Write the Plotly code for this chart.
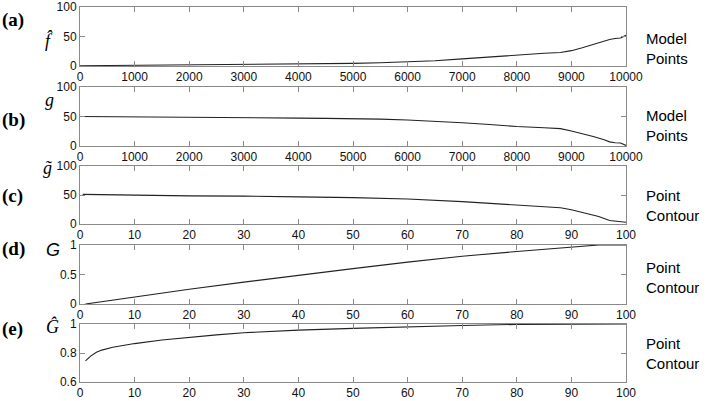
import plotly.graph_objects as go

W, H = 709, 401

# ---- data ----
x_model = [0, 500, 1000, 1500, 2000, 2500, 3000, 3500, 4000, 4500, 5000, 5500, 6000,
           6500, 7000, 7500, 8000, 8500, 8800, 9000, 9200, 9400, 9600, 9700, 9800, 9900, 10000]
f_hat = [0.5, 0.8, 1.0, 1.3, 1.6, 2.0, 2.3, 2.7, 3.0, 3.7, 4.5, 5.5, 7.0,
         9.0, 12.0, 15.5, 19.0, 21.5, 23.0, 26.0, 31.0, 37.0, 42.0, 45.0, 46.5, 47.5, 52.0]
g_vals = [50.0, 49.8, 49.5, 49.2, 49.0, 48.6, 48.2, 47.8, 47.3, 46.8, 46.5, 45.5, 44.0,
          42.0, 39.5, 36.5, 33.0, 31.0, 29.5, 25.5, 21.0, 16.0, 10.5, 7.0, 5.5, 5.0, 1.0]

x_tilde = [0.5, 5, 10, 15, 17, 20, 30, 35, 40, 50, 60, 70, 80, 88, 90, 95, 97, 100]
g_tilde = [51.0, 50.2, 50.0, 49.7, 48.5, 48.5, 48.0, 47.8, 46.8, 45.5, 43.0, 38.5, 33.0,
           28.0, 24.5, 13.0, 6.0, 3.0]

x_G = [1, 10, 20, 30, 40, 50, 60, 70, 80, 90, 95, 100]
G_vals = [0.0, 0.12, 0.25, 0.37, 0.49, 0.60, 0.71, 0.81, 0.89, 0.97, 1.0, 1.0]

x_Gh = [1, 2, 3, 4, 6, 8, 10, 15, 20, 25, 30, 40, 50, 60, 70, 80, 88, 100]
G_hat = [0.745, 0.78, 0.805, 0.82, 0.84, 0.855, 0.865, 0.89, 0.91, 0.925, 0.94, 0.958,
         0.97, 0.982, 0.99, 0.997, 1.0, 1.0]

panel_tags = ["(a)", "(b)", "(c)", "(d)", "(e)"]
y_titles = ["f\u0302", "g", "g\u0303", "G", "\u011C"]
side_labels = ["Model<br>Points", "Model<br>Points", "Point<br>Contour",
               "Point<br>Contour", "Point<br>Contour"]

series = [(x_model, f_hat), (x_model, g_vals), (x_tilde, g_tilde), (x_G, G_vals), (x_Gh, G_hat)]
x_ranges = [[0, 10000], [0, 10000], [0, 100], [0, 100], [0, 100]]
x_dticks = [1000, 1000, 10, 10, 10]
y_ranges = [[0, 100], [0, 100], [0, 100], [0, 1], [0.6, 1]]
y_tickvals = [[0, 50, 100], [0, 50, 100], [0, 50, 100], [0, 0.5, 1], [0.6, 0.8, 1]]
y_ticktext = [["0", "50", "100"], ["0", "50", "100"], ["0", "50", "100"],
              ["0", "0.5", "1"], ["0.6", "0.8", "1"]]

# ---- layout geometry (pixels) ----
px_left, px_right = 80, 626
panel_px = [(7, 66), (87, 146), (166, 224), (245, 304), (324, 382)]
tag_y = [20, 120, 196, 249, 329]
title_pos = [(49, 40), (49, 100), (48, 168), (53, 250), (52, 326)]
side_y = [48.5, 125, 205, 277, 353.5]

def py(p):
    return 1 - p / H

def px(p):
    return p / W

fig = go.Figure()
layout = dict(width=W, height=H, margin=dict(l=0, r=0, t=0, b=0, pad=0, autoexpand=False),
              paper_bgcolor="white", plot_bgcolor="white", showlegend=False)

annotations = []
for i in range(5):
    n = "" if i == 0 else str(i + 1)
    xs, ys = series[i]
    fig.add_trace(go.Scatter(x=xs, y=ys, mode="lines",
                             line=dict(color="#222222", width=1.1),
                             xaxis="x" + n, yaxis="y" + n, hoverinfo="skip"))
    top, bot = panel_px[i]
    axis_common = dict(showline=True, linecolor="#8a8a8a", linewidth=1, mirror="ticks",
                       ticks="inside", ticklen=5, tickcolor="#8a8a8a",
                       showgrid=False, zeroline=False, automargin=False,
                       tickfont=dict(family="Liberation Sans", size=12, color="#111111"))
    layout["xaxis" + n] = dict(domain=[px(px_left), px(px_right)], range=x_ranges[i],
                               dtick=x_dticks[i], tick0=0, tickformat="d",
                               anchor="y" + n, **axis_common)
    layout["yaxis" + n] = dict(domain=[py(bot), py(top)], range=y_ranges[i],
                               tickvals=y_tickvals[i], ticktext=y_ticktext[i],
                               anchor="x" + n, **axis_common)
    annotations.append(dict(x=0, y=py(tag_y[i]), xref="paper", yref="paper",
                            text="<b>" + panel_tags[i] + "</b>", showarrow=False,
                            xanchor="left", yanchor="middle",
                            font=dict(family="Liberation Serif", size=19, color="black")))
    tfont = "Liberation Sans" if i == 3 else "Liberation Serif"
    tx, ty = title_pos[i]
    annotations.append(dict(x=px(tx), y=py(ty), xref="paper", yref="paper",
                            text="<i>" + y_titles[i] + "</i>", showarrow=False,
                            xanchor="center", yanchor="middle",
                            font=dict(family=tfont, size=18, color="black")))
    annotations.append(dict(x=px(644), y=py(side_y[i]), xref="paper", yref="paper",
                            text=side_labels[i], showarrow=False, xanchor="left",
                            yanchor="middle", align="left",
                            font=dict(family="Liberation Sans", size=15, color="black")))

layout["annotations"] = annotations
fig.update_layout(**layout)
fig.write_html("out.html", config={"displayModeBar": False},
               post_script="document.body.style.margin='0';document.body.style.overflow='hidden';")
